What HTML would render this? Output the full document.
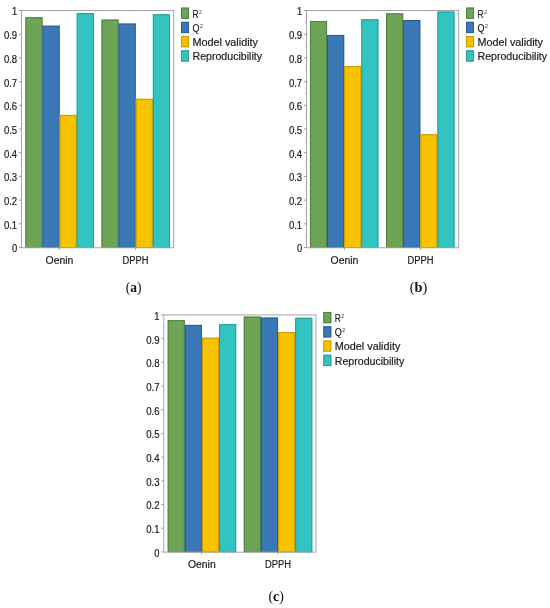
<!DOCTYPE html>
<html><head><meta charset="utf-8"><title>Figure</title>
<style>
html,body{margin:0;padding:0;background:#fff;}
body{width:550px;height:608px;overflow:hidden;}
svg{display:block;filter:blur(0.35px);}
text{font-family:"Liberation Sans",sans-serif;fill:#1a1a1a;stroke:#1a1a1a;stroke-width:0.18px;}
.ax{font-size:10px;}
.lg{font-size:10px;}
.sup{font-size:5.2px;fill:#333;stroke:none;}
.cap{font-family:"Liberation Serif",serif;font-size:15px;fill:#111;stroke:none;}
</style></head><body>
<svg width="550" height="608" viewBox="0 0 550 608">
<rect width="550" height="608" fill="#fff"/>
<g transform="translate(0,0)">
<rect x="25.40" y="17.18" width="17.12" height="230.32" fill="#6ea456"/>
<rect x="25.90" y="17.68" width="16.12" height="229.82" fill="none" stroke="#4f8040" stroke-width="1"/>
<rect x="42.52" y="25.72" width="17.12" height="221.78" fill="#3b78b6"/>
<rect x="43.02" y="26.22" width="16.12" height="221.28" fill="none" stroke="#2a5f98" stroke-width="1"/>
<rect x="59.64" y="114.91" width="17.12" height="132.59" fill="#f7c200"/>
<rect x="60.14" y="115.41" width="16.12" height="132.09" fill="none" stroke="#c89b00" stroke-width="1"/>
<rect x="76.76" y="13.15" width="17.12" height="234.35" fill="#33c3c1"/>
<rect x="77.26" y="13.65" width="16.12" height="233.85" fill="none" stroke="#259e9c" stroke-width="1"/>
<rect x="101.50" y="19.55" width="17.12" height="227.95" fill="#6ea456"/>
<rect x="102.00" y="20.05" width="16.12" height="227.45" fill="none" stroke="#4f8040" stroke-width="1"/>
<rect x="118.62" y="23.58" width="17.12" height="223.92" fill="#3b78b6"/>
<rect x="119.12" y="24.08" width="16.12" height="223.42" fill="none" stroke="#2a5f98" stroke-width="1"/>
<rect x="135.74" y="98.78" width="17.12" height="148.72" fill="#f7c200"/>
<rect x="136.24" y="99.28" width="16.12" height="148.22" fill="none" stroke="#c89b00" stroke-width="1"/>
<rect x="152.86" y="14.33" width="17.12" height="233.17" fill="#33c3c1"/>
<rect x="153.36" y="14.83" width="16.12" height="232.67" fill="none" stroke="#259e9c" stroke-width="1"/>
<rect x="21.5" y="10.5" width="152.15" height="237.25" fill="none" stroke="#a6a6a6" stroke-width="1"/>
<line x1="19" x2="21.5" y1="10.50" y2="10.50" stroke="#9a9a9a" stroke-width="1"/>
<line x1="20.2" x2="21.5" y1="22.35" y2="22.35" stroke="#b5b5b5" stroke-width="1"/>
<line x1="19" x2="21.5" y1="34.20" y2="34.20" stroke="#9a9a9a" stroke-width="1"/>
<line x1="20.2" x2="21.5" y1="46.05" y2="46.05" stroke="#b5b5b5" stroke-width="1"/>
<line x1="19" x2="21.5" y1="57.90" y2="57.90" stroke="#9a9a9a" stroke-width="1"/>
<line x1="20.2" x2="21.5" y1="69.75" y2="69.75" stroke="#b5b5b5" stroke-width="1"/>
<line x1="19" x2="21.5" y1="81.60" y2="81.60" stroke="#9a9a9a" stroke-width="1"/>
<line x1="20.2" x2="21.5" y1="93.45" y2="93.45" stroke="#b5b5b5" stroke-width="1"/>
<line x1="19" x2="21.5" y1="105.30" y2="105.30" stroke="#9a9a9a" stroke-width="1"/>
<line x1="20.2" x2="21.5" y1="117.15" y2="117.15" stroke="#b5b5b5" stroke-width="1"/>
<line x1="19" x2="21.5" y1="129.00" y2="129.00" stroke="#9a9a9a" stroke-width="1"/>
<line x1="20.2" x2="21.5" y1="140.85" y2="140.85" stroke="#b5b5b5" stroke-width="1"/>
<line x1="19" x2="21.5" y1="152.70" y2="152.70" stroke="#9a9a9a" stroke-width="1"/>
<line x1="20.2" x2="21.5" y1="164.55" y2="164.55" stroke="#b5b5b5" stroke-width="1"/>
<line x1="19" x2="21.5" y1="176.40" y2="176.40" stroke="#9a9a9a" stroke-width="1"/>
<line x1="20.2" x2="21.5" y1="188.25" y2="188.25" stroke="#b5b5b5" stroke-width="1"/>
<line x1="19" x2="21.5" y1="200.10" y2="200.10" stroke="#9a9a9a" stroke-width="1"/>
<line x1="20.2" x2="21.5" y1="211.95" y2="211.95" stroke="#b5b5b5" stroke-width="1"/>
<line x1="19" x2="21.5" y1="223.80" y2="223.80" stroke="#9a9a9a" stroke-width="1"/>
<line x1="20.2" x2="21.5" y1="235.65" y2="235.65" stroke="#b5b5b5" stroke-width="1"/>
<line x1="19" x2="21.5" y1="247.50" y2="247.50" stroke="#9a9a9a" stroke-width="1"/>
<line x1="59.3" x2="59.3" y1="247.5" y2="250" stroke="#9a9a9a" stroke-width="1"/>
<line x1="135.6" x2="135.6" y1="247.5" y2="250" stroke="#9a9a9a" stroke-width="1"/>
<text x="17.2" y="15.45" text-anchor="end" class="ax" textLength="5.2" lengthAdjust="spacingAndGlyphs">1</text>
<text x="17.2" y="39.15" text-anchor="end" class="ax" textLength="13.3" lengthAdjust="spacingAndGlyphs">0.9</text>
<text x="17.2" y="62.85" text-anchor="end" class="ax" textLength="13.3" lengthAdjust="spacingAndGlyphs">0.8</text>
<text x="17.2" y="86.55" text-anchor="end" class="ax" textLength="13.3" lengthAdjust="spacingAndGlyphs">0.7</text>
<text x="17.2" y="110.25" text-anchor="end" class="ax" textLength="13.3" lengthAdjust="spacingAndGlyphs">0.6</text>
<text x="17.2" y="133.95" text-anchor="end" class="ax" textLength="13.3" lengthAdjust="spacingAndGlyphs">0.5</text>
<text x="17.2" y="157.65" text-anchor="end" class="ax" textLength="13.3" lengthAdjust="spacingAndGlyphs">0.4</text>
<text x="17.2" y="181.35" text-anchor="end" class="ax" textLength="13.3" lengthAdjust="spacingAndGlyphs">0.3</text>
<text x="17.2" y="205.05" text-anchor="end" class="ax" textLength="13.3" lengthAdjust="spacingAndGlyphs">0.2</text>
<text x="17.2" y="228.75" text-anchor="end" class="ax" textLength="13.3" lengthAdjust="spacingAndGlyphs">0.1</text>
<text x="17.2" y="252.45" text-anchor="end" class="ax" textLength="5.2" lengthAdjust="spacingAndGlyphs">0</text>
<text x="59.5" y="263.7" text-anchor="middle" class="ax" textLength="27.8" lengthAdjust="spacingAndGlyphs">Oenin</text>
<text x="135.6" y="263.7" text-anchor="middle" class="ax" textLength="26" lengthAdjust="spacingAndGlyphs">DPPH</text>
<rect x="181" y="7.60" width="8" height="11.2" fill="#6ea456"/>
<rect x="181.5" y="8.10" width="7" height="10.2" fill="none" stroke="#4f8040" stroke-width="1"/>
<text x="192.5" y="17.60" class="lg" textLength="6.0" lengthAdjust="spacingAndGlyphs">R</text>
<text x="199.00" y="13.70" class="sup">2</text>
<rect x="181" y="21.85" width="8" height="11.2" fill="#3b78b6"/>
<rect x="181.5" y="22.35" width="7" height="10.2" fill="none" stroke="#2a5f98" stroke-width="1"/>
<text x="192.5" y="31.85" class="lg" textLength="7.0" lengthAdjust="spacingAndGlyphs">Q</text>
<text x="200.00" y="27.95" class="sup">2</text>
<rect x="181" y="36.10" width="8" height="11.2" fill="#f7c200"/>
<rect x="181.5" y="36.60" width="7" height="10.2" fill="none" stroke="#c89b00" stroke-width="1"/>
<text x="192.5" y="46.10" class="lg" textLength="65.5" lengthAdjust="spacingAndGlyphs">Model validity</text>
<rect x="181" y="50.35" width="8" height="11.2" fill="#33c3c1"/>
<rect x="181.5" y="50.85" width="7" height="10.2" fill="none" stroke="#259e9c" stroke-width="1"/>
<text x="192.5" y="60.35" class="lg" textLength="69.5" lengthAdjust="spacingAndGlyphs">Reproducibility</text>
</g>
<g transform="translate(285,0)">
<rect x="24.95" y="20.97" width="17.12" height="226.53" fill="#6ea456"/>
<rect x="25.45" y="21.47" width="16.12" height="226.03" fill="none" stroke="#4f8040" stroke-width="1"/>
<rect x="42.07" y="34.97" width="17.12" height="212.53" fill="#3b78b6"/>
<rect x="42.57" y="35.47" width="16.12" height="212.03" fill="none" stroke="#2a5f98" stroke-width="1"/>
<rect x="59.19" y="66.04" width="17.12" height="181.46" fill="#f7c200"/>
<rect x="59.69" y="66.54" width="16.12" height="180.96" fill="none" stroke="#c89b00" stroke-width="1"/>
<rect x="76.31" y="19.31" width="17.12" height="228.19" fill="#33c3c1"/>
<rect x="76.81" y="19.81" width="16.12" height="227.69" fill="none" stroke="#259e9c" stroke-width="1"/>
<rect x="101.05" y="13.38" width="17.12" height="234.12" fill="#6ea456"/>
<rect x="101.55" y="13.88" width="16.12" height="233.62" fill="none" stroke="#4f8040" stroke-width="1"/>
<rect x="118.17" y="20.03" width="17.12" height="227.47" fill="#3b78b6"/>
<rect x="118.67" y="20.53" width="16.12" height="226.97" fill="none" stroke="#2a5f98" stroke-width="1"/>
<rect x="135.29" y="134.24" width="17.12" height="113.26" fill="#f7c200"/>
<rect x="135.79" y="134.74" width="16.12" height="112.76" fill="none" stroke="#c89b00" stroke-width="1"/>
<rect x="152.41" y="11.49" width="17.12" height="236.01" fill="#33c3c1"/>
<rect x="152.91" y="11.99" width="16.12" height="235.51" fill="none" stroke="#259e9c" stroke-width="1"/>
<rect x="21.5" y="10.5" width="152.15" height="237.25" fill="none" stroke="#a6a6a6" stroke-width="1"/>
<line x1="19" x2="21.5" y1="10.50" y2="10.50" stroke="#9a9a9a" stroke-width="1"/>
<line x1="20.2" x2="21.5" y1="22.35" y2="22.35" stroke="#b5b5b5" stroke-width="1"/>
<line x1="19" x2="21.5" y1="34.20" y2="34.20" stroke="#9a9a9a" stroke-width="1"/>
<line x1="20.2" x2="21.5" y1="46.05" y2="46.05" stroke="#b5b5b5" stroke-width="1"/>
<line x1="19" x2="21.5" y1="57.90" y2="57.90" stroke="#9a9a9a" stroke-width="1"/>
<line x1="20.2" x2="21.5" y1="69.75" y2="69.75" stroke="#b5b5b5" stroke-width="1"/>
<line x1="19" x2="21.5" y1="81.60" y2="81.60" stroke="#9a9a9a" stroke-width="1"/>
<line x1="20.2" x2="21.5" y1="93.45" y2="93.45" stroke="#b5b5b5" stroke-width="1"/>
<line x1="19" x2="21.5" y1="105.30" y2="105.30" stroke="#9a9a9a" stroke-width="1"/>
<line x1="20.2" x2="21.5" y1="117.15" y2="117.15" stroke="#b5b5b5" stroke-width="1"/>
<line x1="19" x2="21.5" y1="129.00" y2="129.00" stroke="#9a9a9a" stroke-width="1"/>
<line x1="20.2" x2="21.5" y1="140.85" y2="140.85" stroke="#b5b5b5" stroke-width="1"/>
<line x1="19" x2="21.5" y1="152.70" y2="152.70" stroke="#9a9a9a" stroke-width="1"/>
<line x1="20.2" x2="21.5" y1="164.55" y2="164.55" stroke="#b5b5b5" stroke-width="1"/>
<line x1="19" x2="21.5" y1="176.40" y2="176.40" stroke="#9a9a9a" stroke-width="1"/>
<line x1="20.2" x2="21.5" y1="188.25" y2="188.25" stroke="#b5b5b5" stroke-width="1"/>
<line x1="19" x2="21.5" y1="200.10" y2="200.10" stroke="#9a9a9a" stroke-width="1"/>
<line x1="20.2" x2="21.5" y1="211.95" y2="211.95" stroke="#b5b5b5" stroke-width="1"/>
<line x1="19" x2="21.5" y1="223.80" y2="223.80" stroke="#9a9a9a" stroke-width="1"/>
<line x1="20.2" x2="21.5" y1="235.65" y2="235.65" stroke="#b5b5b5" stroke-width="1"/>
<line x1="19" x2="21.5" y1="247.50" y2="247.50" stroke="#9a9a9a" stroke-width="1"/>
<line x1="59.3" x2="59.3" y1="247.5" y2="250" stroke="#9a9a9a" stroke-width="1"/>
<line x1="135.6" x2="135.6" y1="247.5" y2="250" stroke="#9a9a9a" stroke-width="1"/>
<text x="17.2" y="15.45" text-anchor="end" class="ax" textLength="5.2" lengthAdjust="spacingAndGlyphs">1</text>
<text x="17.2" y="39.15" text-anchor="end" class="ax" textLength="13.3" lengthAdjust="spacingAndGlyphs">0.9</text>
<text x="17.2" y="62.85" text-anchor="end" class="ax" textLength="13.3" lengthAdjust="spacingAndGlyphs">0.8</text>
<text x="17.2" y="86.55" text-anchor="end" class="ax" textLength="13.3" lengthAdjust="spacingAndGlyphs">0.7</text>
<text x="17.2" y="110.25" text-anchor="end" class="ax" textLength="13.3" lengthAdjust="spacingAndGlyphs">0.6</text>
<text x="17.2" y="133.95" text-anchor="end" class="ax" textLength="13.3" lengthAdjust="spacingAndGlyphs">0.5</text>
<text x="17.2" y="157.65" text-anchor="end" class="ax" textLength="13.3" lengthAdjust="spacingAndGlyphs">0.4</text>
<text x="17.2" y="181.35" text-anchor="end" class="ax" textLength="13.3" lengthAdjust="spacingAndGlyphs">0.3</text>
<text x="17.2" y="205.05" text-anchor="end" class="ax" textLength="13.3" lengthAdjust="spacingAndGlyphs">0.2</text>
<text x="17.2" y="228.75" text-anchor="end" class="ax" textLength="13.3" lengthAdjust="spacingAndGlyphs">0.1</text>
<text x="17.2" y="252.45" text-anchor="end" class="ax" textLength="5.2" lengthAdjust="spacingAndGlyphs">0</text>
<text x="59.5" y="263.7" text-anchor="middle" class="ax" textLength="27.8" lengthAdjust="spacingAndGlyphs">Oenin</text>
<text x="135.6" y="263.7" text-anchor="middle" class="ax" textLength="26" lengthAdjust="spacingAndGlyphs">DPPH</text>
<rect x="181" y="7.60" width="8" height="11.2" fill="#6ea456"/>
<rect x="181.5" y="8.10" width="7" height="10.2" fill="none" stroke="#4f8040" stroke-width="1"/>
<text x="192.5" y="17.60" class="lg" textLength="6.0" lengthAdjust="spacingAndGlyphs">R</text>
<text x="199.00" y="13.70" class="sup">2</text>
<rect x="181" y="21.85" width="8" height="11.2" fill="#3b78b6"/>
<rect x="181.5" y="22.35" width="7" height="10.2" fill="none" stroke="#2a5f98" stroke-width="1"/>
<text x="192.5" y="31.85" class="lg" textLength="7.0" lengthAdjust="spacingAndGlyphs">Q</text>
<text x="200.00" y="27.95" class="sup">2</text>
<rect x="181" y="36.10" width="8" height="11.2" fill="#f7c200"/>
<rect x="181.5" y="36.60" width="7" height="10.2" fill="none" stroke="#c89b00" stroke-width="1"/>
<text x="192.5" y="46.10" class="lg" textLength="65.5" lengthAdjust="spacingAndGlyphs">Model validity</text>
<rect x="181" y="50.35" width="8" height="11.2" fill="#33c3c1"/>
<rect x="181.5" y="50.85" width="7" height="10.2" fill="none" stroke="#259e9c" stroke-width="1"/>
<text x="192.5" y="60.35" class="lg" textLength="69.5" lengthAdjust="spacingAndGlyphs">Reproducibility</text>
</g>
<g transform="translate(142.3,304.4)">
<rect x="25.40" y="15.76" width="17.12" height="231.74" fill="#6ea456"/>
<rect x="25.90" y="16.26" width="16.12" height="231.24" fill="none" stroke="#4f8040" stroke-width="1"/>
<rect x="42.52" y="20.50" width="17.12" height="227.00" fill="#3b78b6"/>
<rect x="43.02" y="21.00" width="16.12" height="226.50" fill="none" stroke="#2a5f98" stroke-width="1"/>
<rect x="59.64" y="33.31" width="17.12" height="214.19" fill="#f7c200"/>
<rect x="60.14" y="33.81" width="16.12" height="213.69" fill="none" stroke="#c89b00" stroke-width="1"/>
<rect x="76.76" y="19.79" width="17.12" height="227.71" fill="#33c3c1"/>
<rect x="77.26" y="20.29" width="16.12" height="227.21" fill="none" stroke="#259e9c" stroke-width="1"/>
<rect x="101.50" y="12.20" width="17.12" height="235.30" fill="#6ea456"/>
<rect x="102.00" y="12.70" width="16.12" height="234.80" fill="none" stroke="#4f8040" stroke-width="1"/>
<rect x="118.62" y="13.15" width="17.12" height="234.35" fill="#3b78b6"/>
<rect x="119.12" y="13.65" width="16.12" height="233.85" fill="none" stroke="#2a5f98" stroke-width="1"/>
<rect x="135.74" y="27.62" width="17.12" height="219.88" fill="#f7c200"/>
<rect x="136.24" y="28.12" width="16.12" height="219.38" fill="none" stroke="#c89b00" stroke-width="1"/>
<rect x="152.86" y="13.38" width="17.12" height="234.12" fill="#33c3c1"/>
<rect x="153.36" y="13.88" width="16.12" height="233.62" fill="none" stroke="#259e9c" stroke-width="1"/>
<rect x="21.5" y="10.5" width="152.15" height="237.25" fill="none" stroke="#a6a6a6" stroke-width="1"/>
<line x1="19" x2="21.5" y1="10.50" y2="10.50" stroke="#9a9a9a" stroke-width="1"/>
<line x1="20.2" x2="21.5" y1="22.35" y2="22.35" stroke="#b5b5b5" stroke-width="1"/>
<line x1="19" x2="21.5" y1="34.20" y2="34.20" stroke="#9a9a9a" stroke-width="1"/>
<line x1="20.2" x2="21.5" y1="46.05" y2="46.05" stroke="#b5b5b5" stroke-width="1"/>
<line x1="19" x2="21.5" y1="57.90" y2="57.90" stroke="#9a9a9a" stroke-width="1"/>
<line x1="20.2" x2="21.5" y1="69.75" y2="69.75" stroke="#b5b5b5" stroke-width="1"/>
<line x1="19" x2="21.5" y1="81.60" y2="81.60" stroke="#9a9a9a" stroke-width="1"/>
<line x1="20.2" x2="21.5" y1="93.45" y2="93.45" stroke="#b5b5b5" stroke-width="1"/>
<line x1="19" x2="21.5" y1="105.30" y2="105.30" stroke="#9a9a9a" stroke-width="1"/>
<line x1="20.2" x2="21.5" y1="117.15" y2="117.15" stroke="#b5b5b5" stroke-width="1"/>
<line x1="19" x2="21.5" y1="129.00" y2="129.00" stroke="#9a9a9a" stroke-width="1"/>
<line x1="20.2" x2="21.5" y1="140.85" y2="140.85" stroke="#b5b5b5" stroke-width="1"/>
<line x1="19" x2="21.5" y1="152.70" y2="152.70" stroke="#9a9a9a" stroke-width="1"/>
<line x1="20.2" x2="21.5" y1="164.55" y2="164.55" stroke="#b5b5b5" stroke-width="1"/>
<line x1="19" x2="21.5" y1="176.40" y2="176.40" stroke="#9a9a9a" stroke-width="1"/>
<line x1="20.2" x2="21.5" y1="188.25" y2="188.25" stroke="#b5b5b5" stroke-width="1"/>
<line x1="19" x2="21.5" y1="200.10" y2="200.10" stroke="#9a9a9a" stroke-width="1"/>
<line x1="20.2" x2="21.5" y1="211.95" y2="211.95" stroke="#b5b5b5" stroke-width="1"/>
<line x1="19" x2="21.5" y1="223.80" y2="223.80" stroke="#9a9a9a" stroke-width="1"/>
<line x1="20.2" x2="21.5" y1="235.65" y2="235.65" stroke="#b5b5b5" stroke-width="1"/>
<line x1="19" x2="21.5" y1="247.50" y2="247.50" stroke="#9a9a9a" stroke-width="1"/>
<line x1="59.3" x2="59.3" y1="247.5" y2="250" stroke="#9a9a9a" stroke-width="1"/>
<line x1="135.6" x2="135.6" y1="247.5" y2="250" stroke="#9a9a9a" stroke-width="1"/>
<text x="17.2" y="15.45" text-anchor="end" class="ax" textLength="5.2" lengthAdjust="spacingAndGlyphs">1</text>
<text x="17.2" y="39.15" text-anchor="end" class="ax" textLength="13.3" lengthAdjust="spacingAndGlyphs">0.9</text>
<text x="17.2" y="62.85" text-anchor="end" class="ax" textLength="13.3" lengthAdjust="spacingAndGlyphs">0.8</text>
<text x="17.2" y="86.55" text-anchor="end" class="ax" textLength="13.3" lengthAdjust="spacingAndGlyphs">0.7</text>
<text x="17.2" y="110.25" text-anchor="end" class="ax" textLength="13.3" lengthAdjust="spacingAndGlyphs">0.6</text>
<text x="17.2" y="133.95" text-anchor="end" class="ax" textLength="13.3" lengthAdjust="spacingAndGlyphs">0.5</text>
<text x="17.2" y="157.65" text-anchor="end" class="ax" textLength="13.3" lengthAdjust="spacingAndGlyphs">0.4</text>
<text x="17.2" y="181.35" text-anchor="end" class="ax" textLength="13.3" lengthAdjust="spacingAndGlyphs">0.3</text>
<text x="17.2" y="205.05" text-anchor="end" class="ax" textLength="13.3" lengthAdjust="spacingAndGlyphs">0.2</text>
<text x="17.2" y="228.75" text-anchor="end" class="ax" textLength="13.3" lengthAdjust="spacingAndGlyphs">0.1</text>
<text x="17.2" y="252.45" text-anchor="end" class="ax" textLength="5.2" lengthAdjust="spacingAndGlyphs">0</text>
<text x="59.5" y="263.7" text-anchor="middle" class="ax" textLength="27.8" lengthAdjust="spacingAndGlyphs">Oenin</text>
<text x="135.6" y="263.7" text-anchor="middle" class="ax" textLength="26" lengthAdjust="spacingAndGlyphs">DPPH</text>
<rect x="181" y="7.60" width="8" height="11.2" fill="#6ea456"/>
<rect x="181.5" y="8.10" width="7" height="10.2" fill="none" stroke="#4f8040" stroke-width="1"/>
<text x="192.5" y="17.60" class="lg" textLength="6.0" lengthAdjust="spacingAndGlyphs">R</text>
<text x="199.00" y="13.70" class="sup">2</text>
<rect x="181" y="21.85" width="8" height="11.2" fill="#3b78b6"/>
<rect x="181.5" y="22.35" width="7" height="10.2" fill="none" stroke="#2a5f98" stroke-width="1"/>
<text x="192.5" y="31.85" class="lg" textLength="7.0" lengthAdjust="spacingAndGlyphs">Q</text>
<text x="200.00" y="27.95" class="sup">2</text>
<rect x="181" y="36.10" width="8" height="11.2" fill="#f7c200"/>
<rect x="181.5" y="36.60" width="7" height="10.2" fill="none" stroke="#c89b00" stroke-width="1"/>
<text x="192.5" y="46.10" class="lg" textLength="65.5" lengthAdjust="spacingAndGlyphs">Model validity</text>
<rect x="181" y="50.35" width="8" height="11.2" fill="#33c3c1"/>
<rect x="181.5" y="50.85" width="7" height="10.2" fill="none" stroke="#259e9c" stroke-width="1"/>
<text x="192.5" y="60.35" class="lg" textLength="69.5" lengthAdjust="spacingAndGlyphs">Reproducibility</text>
</g>
<text x="133.6" y="291.5" text-anchor="middle" class="cap" textLength="15.8" lengthAdjust="spacingAndGlyphs">(<tspan font-weight="bold">a</tspan>)</text>
<text x="418.6" y="291.5" text-anchor="middle" class="cap" textLength="17.5" lengthAdjust="spacingAndGlyphs">(<tspan font-weight="bold">b</tspan>)</text>
<text x="276.2" y="600.7" text-anchor="middle" class="cap" textLength="15.4" lengthAdjust="spacingAndGlyphs">(<tspan font-weight="bold">c</tspan>)</text>
</svg>
</body></html>
